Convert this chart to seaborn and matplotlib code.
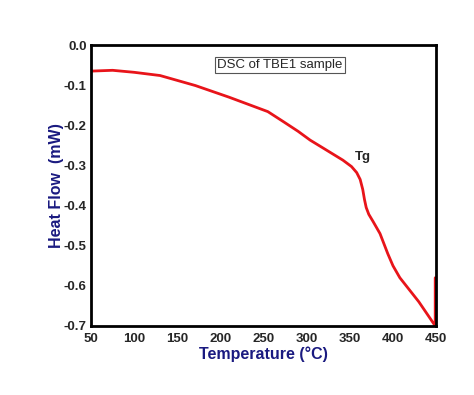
import matplotlib
matplotlib.use("Agg")
import matplotlib.pyplot as plt
import seaborn as sns
import pandas as pd

temperature = [50, 75, 100, 130, 171, 210, 255, 273, 290, 304, 320, 342, 352, 358, 362, 365, 367, 369, 372, 377, 385, 394, 400, 408, 430, 449, 449]
heat_flow = [-0.065, -0.063, -0.068, -0.076, -0.101, -0.130, -0.166, -0.191, -0.215, -0.237, -0.258, -0.287, -0.303, -0.318, -0.335, -0.360, -0.385, -0.405, -0.422, -0.440, -0.470, -0.520, -0.550, -0.580, -0.640, -0.700, -0.580]
x_ticks = [50, 100, 150, 200, 250, 300, 350, 400, 450]
y_ticks = [0.0, -0.1, -0.2, -0.3, -0.4, -0.5, -0.6, -0.7]

sns.set_style("white")
plt.rcParams['font.family'] = ['Liberation Sans', 'DejaVu Sans']

df = pd.DataFrame({"T": temperature, "HF": heat_flow})

fig = plt.figure(figsize=(4.74, 3.95), dpi=100)
ax = fig.add_axes([0.192, 0.175, 0.728, 0.711])
sns.lineplot(data=df, x="T", y="HF", sort=False, estimator=None, color="#e8141a", linewidth=2, ax=ax)

ax.set_xlim(50, 450)
ax.set_ylim(-0.7, 0.0)
ax.set_xticks(x_ticks)
ax.set_yticks(y_ticks)
ax.set_xticklabels([str(v) for v in x_ticks], fontsize=9.5, fontweight='bold')
ax.set_yticklabels([f"{v:.1f}" for v in y_ticks], fontsize=9.5, fontweight='bold')
ax.tick_params(axis='x', length=0, pad=5)
ax.tick_params(axis='y', length=0, pad=3)
for s in ax.spines.values():
    s.set_linewidth(2)
    s.set_color("black")
ax.set_xlabel("Temperature (°C)", fontsize=11.5, fontweight='bold', color="#1a1a80", labelpad=1)
ax.set_ylabel("Heat Flow  (mW)", fontsize=11.5, fontweight='bold', color="#1a1a80", labelpad=0)

ax.text(365, -0.28, "Tg", fontsize=9.5, fontweight='bold', ha='center', va='center')
ax.text(269, -0.05, "DSC of TBE1 sample", fontsize=9.5, ha='center', va='center',
        bbox=dict(boxstyle='square,pad=0.15', facecolor='white', edgecolor='#555555', linewidth=0.8))

fig.savefig("out.png", dpi=100)
